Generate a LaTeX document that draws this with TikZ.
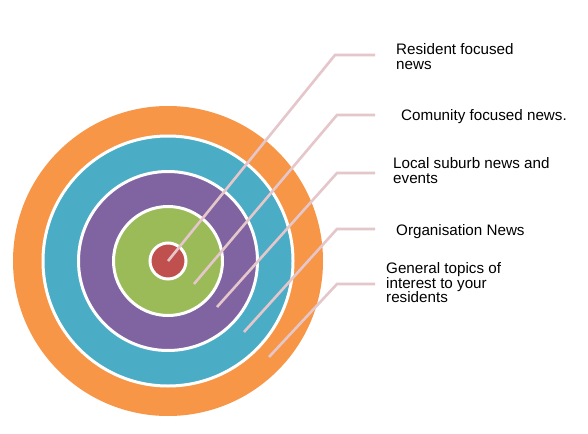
\documentclass[tikz,border=0pt]{standalone}
\usepackage{fontspec}
\setmainfont{Liberation Sans}
\definecolor{cOrange}{HTML}{F79646}
\definecolor{cTeal}{HTML}{4BACC6}
\definecolor{cPurple}{HTML}{8064A2}
\definecolor{cGreen}{HTML}{9BBB59}
\definecolor{cRed}{HTML}{C0504D}
\definecolor{cLeader}{HTML}{E4C6CB}
\begin{document}
\begin{tikzpicture}[x=1pt,y=-1pt,
  ring/.style={circle, inner sep=0pt, outer sep=0pt, draw=white, line width=3pt},
  leader/.style={draw=cLeader, line width=2.6pt, line cap=butt, line join=miter},
  lbl/.style={anchor=base west, inner sep=0pt, align=left, font=\fontsize{15.2}{14.7}\selectfont, text=black}]
\useasboundingbox (0,0) rectangle (588,433);
\fill[white] (0,0) rectangle (588,433);
\coordinate (c) at (168,261);
\node[circle, inner sep=0pt, fill=cOrange, minimum size=310pt] (r5) at (c) {};
\node[ring, fill=cTeal, minimum size=250pt] (r4) at (c) {};
\node[ring, fill=cPurple, minimum size=179pt] (r3) at (c) {};
\node[ring, fill=cGreen, minimum size=109pt] (r2) at (c) {};
\node[ring, fill=cRed, minimum size=36pt] (r1) at (c) {};
% labels (base anchor = baseline of the last line)
\node[lbl] (t1) at (396,69.3) {Resident focused\\news};
\node[lbl] (t2) at (401,120.5) {Comunity focused news.};
\node[lbl] (t3) at (393,183.3) {Local suburb news and\\events};
\node[lbl] (t4) at (396,235.3) {Organisation News};
\node[lbl] (t5) at (386,302.7) {General topics of\\interest to your\\residents};
% leader coordinates
\coordinate (s1) at (168,261); \coordinate (k1) at (335,55);  \coordinate (e1) at (375,55);
\coordinate (s2) at (194,284); \coordinate (k2) at (337,115); \coordinate (e2) at (375,115);
\coordinate (s3) at (217,307); \coordinate (k3) at (337,173); \coordinate (e3) at (375,173);
\coordinate (s4) at (244,332); \coordinate (k4) at (337,229); \coordinate (e4) at (375,229);
\coordinate (s5) at (269,357); \coordinate (k5) at (337,284); \coordinate (e5) at (375,284);
\draw[leader] (s1) -- (k1) -- (e1);
\draw[leader] (s2) -- (k2) -- (e2);
\draw[leader] (s3) -- (k3) -- (e3);
\draw[leader] (s4) -- (k4) -- (e4);
\draw[leader] (s5) -- (k5) -- (e5);
\end{tikzpicture}
\end{document}
